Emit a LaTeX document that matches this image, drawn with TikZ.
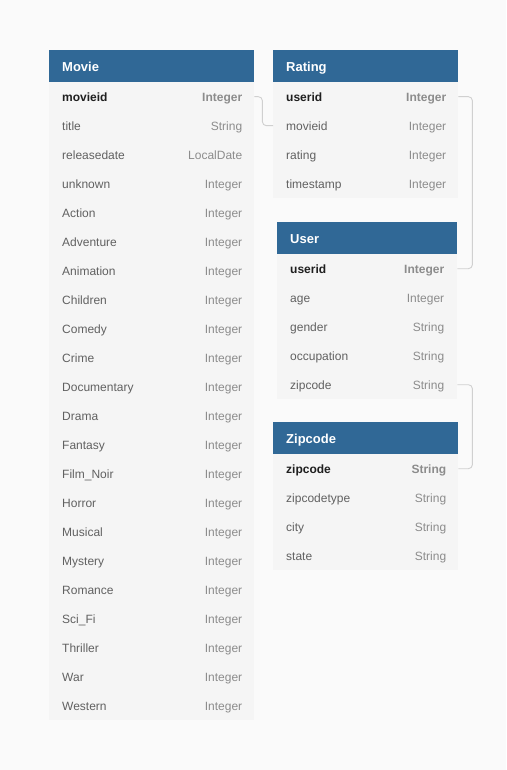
\documentclass[tikz,border=0pt]{standalone}
\usepackage{fontspec}
\setmainfont{Liberation Sans}
\usetikzlibrary{positioning}
\definecolor{erdHeadBlue}{RGB}{48,104,150}
\definecolor{erdRowGray}{RGB}{245,245,245}
\definecolor{erdPageGray}{RGB}{250,250,250}
\definecolor{erdLinkGray}{RGB}{208,208,208}
\colorlet{key text}{black!88}
\colorlet{field text}{black!62}
\colorlet{type text}{black!45}
\tikzset{
    tablehead/.style={fill=erdHeadBlue, text=white, anchor=north west, align=left,
        inner xsep=13pt, inner ysep=0pt, minimum height=32pt,
        text height=11pt, text depth=0pt, font=\bfseries\fontsize{13}{15}\selectfont},
    tablebody/.style={fill=erdRowGray},
    fieldrow/.style={anchor=north west, minimum height=29pt, inner sep=0pt},
    fieldname/.style={anchor=west, inner sep=0pt, text=field text,
        text height=10.4pt, text depth=0pt, font=\fontsize{12}{14}\selectfont},
    fieldtype/.style={fieldname, anchor=east, text=type text},
    link/.style={draw=erdLinkGray, line width=0.9pt, rounded corners=4pt}
}

\begin{document}
\begin{tikzpicture}[x=1pt, y=-1pt]
    % Page background, also fixes the size
    \fill[erdPageGray] (0,0) rectangle (506,770);

    % Movie table
    \node[tablehead, text width=179pt] (movie) at (49,50) {Movie};
    \fill[tablebody] (49,82) rectangle (254,720);
    \foreach \fname/\ftype [count=\i] in {movieid/Integer, title/String, releasedate/LocalDate,
        unknown/Integer, Action/Integer, Adventure/Integer, Animation/Integer, Children/Integer,
        Comedy/Integer, Crime/Integer, Documentary/Integer, Drama/Integer, Fantasy/Integer,
        Film\_Noir/Integer, Horror/Integer, Musical/Integer, Mystery/Integer, Romance/Integer,
        Sci\_Fi/Integer, Thriller/Integer, War/Integer, Western/Integer} {
        \node[fieldrow, minimum width=205pt] (movie-\i) at (49,{53+29*\i}) {};
        \node[fieldname] (movie-\i-name) at ([xshift=13pt]movie-\i.west)
            {\ifnum\i=1\color{key text}\bfseries\fi\fname};
        \node[fieldtype] (movie-\i-type) at ([xshift=-12pt]movie-\i.east)
            {\ifnum\i=1\bfseries\fi\ftype};
    }

    % Rating table
    \node[tablehead, text width=159pt] (rating) at (273,50) {Rating};
    \fill[tablebody] (273,82) rectangle (458,198);
    \foreach \fname/\ftype [count=\i] in {userid/Integer, movieid/Integer, rating/Integer,
        timestamp/Integer} {
        \node[fieldrow, minimum width=185pt] (rating-\i) at (273,{53+29*\i}) {};
        \node[fieldname] (rating-\i-name) at ([xshift=13pt]rating-\i.west)
            {\ifnum\i=1\color{key text}\bfseries\fi\fname};
        \node[fieldtype] (rating-\i-type) at ([xshift=-12pt]rating-\i.east)
            {\ifnum\i=1\bfseries\fi\ftype};
    }

    % User table
    \node[tablehead, text width=154pt] (user) at (277,222) {User};
    \fill[tablebody] (277,254) rectangle (457,399);
    \foreach \fname/\ftype [count=\i] in {userid/Integer, age/Integer, gender/String,
        occupation/String, zipcode/String} {
        \node[fieldrow, minimum width=180pt] (user-\i) at (277,{225+29*\i}) {};
        \node[fieldname] (user-\i-name) at ([xshift=13pt]user-\i.west)
            {\ifnum\i=1\color{key text}\bfseries\fi\fname};
        \node[fieldtype] (user-\i-type) at ([xshift=-13pt]user-\i.east)
            {\ifnum\i=1\bfseries\fi\ftype};
    }

    % Zipcode table
    \node[tablehead, text width=159pt] (zipcode) at (273,422) {Zipcode};
    \fill[tablebody] (273,454) rectangle (458,570);
    \foreach \fname/\ftype [count=\i] in {zipcode/String, zipcodetype/String, city/String,
        state/String} {
        \node[fieldrow, minimum width=185pt] (zipcode-\i) at (273,{425+29*\i}) {};
        \node[fieldname] (zipcode-\i-name) at ([xshift=13pt]zipcode-\i.west)
            {\ifnum\i=1\color{key text}\bfseries\fi\fname};
        \node[fieldtype] (zipcode-\i-type) at ([xshift=-12pt]zipcode-\i.east)
            {\ifnum\i=1\bfseries\fi\ftype};
    }

    % Relations between the tables
    \draw[link] (movie-1.east) -- ++(8,0) |- (rating-2.west);
    \draw[link] (rating-1.east) -- ++(14,0) |- (user-1.east);
    \draw[link] (user-5.east) -- ++(15,0) |- (zipcode-1.east);
\end{tikzpicture}
\end{document}
